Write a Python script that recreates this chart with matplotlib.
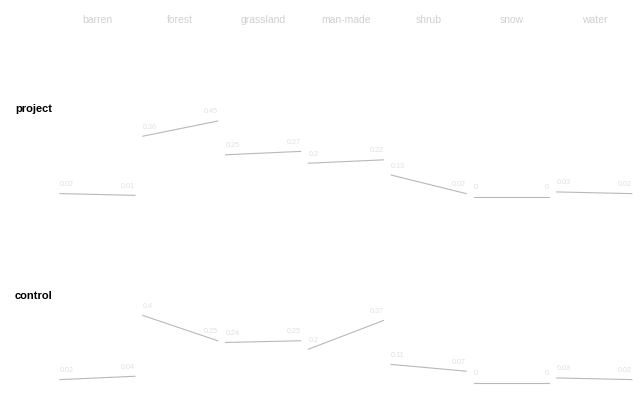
import matplotlib
matplotlib.use("Agg")
import matplotlib.pyplot as plt

plt.rcParams["font.family"] = ["Liberation Sans", "DejaVu Sans"]

categories = ["barren", "forest", "grassland", "man-made", "shrub", "snow", "water"]
groups = ["project", "control"]

project_start = [0.02, 0.36, 0.25, 0.2, 0.13, 0, 0.03]
project_end = [0.01, 0.45, 0.27, 0.22, 0.02, 0, 0.02]
control_start = [0.02, 0.4, 0.24, 0.2, 0.11, 0, 0.03]
control_end = [0.04, 0.25, 0.25, 0.37, 0.07, 0, 0.02]

values = {"project": (project_start, project_end),
          "control": (control_start, control_end)}

W, H = 640, 400
fig = plt.figure(figsize=(6.4, 4), dpi=100)

col_x0 = 60
col_step = 82.8
line_w = 75
row_bottom = {"project": 197, "control": 383}   # pixel y of value 0
row_label_y = {"project": 109, "control": 296}
ymax = 0.45
row_h = 76

line_color = "#b8b8b8"
label_color = "#e0e0e0"

for g in groups:
    starts, ends = values[g]
    fig.text(15 / W, 1 - row_label_y[g] / H, g, fontsize=8, fontweight="bold",
             ha="left", va="center", color="black")
    for i, cat in enumerate(categories):
        x0 = col_x0 + i * col_step
        ax = fig.add_axes([x0 / W, 1 - row_bottom[g] / H, line_w / W, row_h / H])
        ax.set_xlim(0, 1)
        ax.set_ylim(0, ymax)
        ax.axis("off")
        s, e = starts[i], ends[i]
        ax.plot([0, 1], [s, e], color=line_color, lw=0.8, clip_on=False)
        ax.annotate(f"{s:g}", (0, s), xytext=(0, 6.5), textcoords="offset points",
                    ha="left", va="center", fontsize=5.2, color=label_color)
        ax.annotate(f"{e:g}", (1, e), xytext=(0, 6.5), textcoords="offset points",
                    ha="right", va="center", fontsize=5.2, color=label_color)

for i, cat in enumerate(categories):
    xc = col_x0 + i * col_step + line_w / 2
    fig.text(xc / W, 1 - 20 / H, cat, fontsize=7.5, color="#d0d0d0",
             ha="center", va="center")

fig.savefig("out.png", dpi=100, facecolor="white")
